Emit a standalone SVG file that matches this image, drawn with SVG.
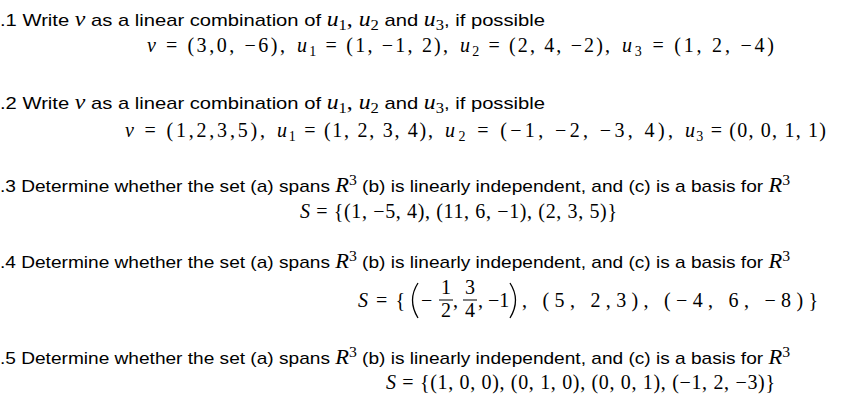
<svg xmlns="http://www.w3.org/2000/svg" width="856" height="420" viewBox="0 0 856 420">
<style>
.t{font-family:"Liberation Sans",Arial,sans-serif;font-size:17px;fill:#000}
.m{font-family:"Liberation Serif","Times New Roman",serif;font-size:20px;fill:#000}
.i{font-style:italic}
.s{font-size:14px}
.p{fill:none;stroke:#000;stroke-width:1.3}
</style>
<rect width="856" height="420" fill="#fff"/>
<g id="q1">
<text class="t" x="0" y="26" textLength="545" lengthAdjust="spacingAndGlyphs">.1 Write <tspan class="m i">v</tspan> as a linear combination of <tspan class="m i">u</tspan><tspan class="m s" dy="4">1</tspan><tspan class="m" dy="-4">, </tspan><tspan class="m i">u</tspan><tspan class="m s" dy="4">2</tspan><tspan dy="-4"> and </tspan><tspan class="m i">u</tspan><tspan class="m s" dy="4">3</tspan><tspan dy="-4">, if possible</tspan></text>
<text class="m" x="147" y="52" textLength="138" lengthAdjust="spacing"><tspan class="i">v</tspan> = (3,0, −6),</text>
<text class="m" x="297" y="52" textLength="151" lengthAdjust="spacing"><tspan class="i">u</tspan><tspan class="s" dy="4">1</tspan><tspan dy="-4"> = (1, −1, 2),</tspan></text>
<text class="m" x="460" y="52" textLength="150" lengthAdjust="spacing"><tspan class="i">u</tspan><tspan class="s" dy="4">2</tspan><tspan dy="-4"> = (2, 4, −2),</tspan></text>
<text class="m" x="622" y="52" textLength="152" lengthAdjust="spacing"><tspan class="i">u</tspan><tspan class="s" dy="4">3</tspan><tspan dy="-4"> = (1, 2, −4)</tspan></text>
</g>
<g id="q2">
<text class="t" x="0" y="109" textLength="545" lengthAdjust="spacingAndGlyphs">.2 Write <tspan class="m i">v</tspan> as a linear combination of <tspan class="m i">u</tspan><tspan class="m s" dy="4">1</tspan><tspan class="m" dy="-4">, </tspan><tspan class="m i">u</tspan><tspan class="m s" dy="4">2</tspan><tspan dy="-4"> and </tspan><tspan class="m i">u</tspan><tspan class="m s" dy="4">3</tspan><tspan dy="-4">, if possible</tspan></text>
<text class="m" x="125" y="137" textLength="140" lengthAdjust="spacing"><tspan class="i">v</tspan> = (1,2,3,5),</text>
<text class="m" x="277" y="137" textLength="156" lengthAdjust="spacing"><tspan class="i">u</tspan><tspan class="s" dy="4">1</tspan><tspan dy="-4"> = (1, 2, 3, 4),</tspan></text>
<text class="m" x="445" y="137" textLength="228" lengthAdjust="spacing"><tspan class="i">u</tspan><tspan class="s" dy="4">2</tspan><tspan dy="-4"> = (−1, −2, −3, 4),</tspan></text>
<text class="m" x="685" y="137" textLength="141" lengthAdjust="spacing"><tspan class="i">u</tspan><tspan class="s" dy="4">3</tspan><tspan dy="-4"> = (0, 0, 1, 1)</tspan></text>
</g>
<g id="q3">
<text class="t" x="0" y="192" textLength="790" lengthAdjust="spacingAndGlyphs">.3 Determine whether the set (a) spans <tspan class="m i">R</tspan><tspan class="m s" dy="-7">3</tspan><tspan dy="7">  (b) is linearly independent, and (c) is a basis for </tspan><tspan class="m i">R</tspan><tspan class="m s" dy="-7">3</tspan></text>
<text class="m" x="300" y="218" textLength="317" lengthAdjust="spacing"><tspan class="i">S</tspan> = {(1, −5, 4), (11, 6, −1), (2, 3, 5)}</text>
</g>
<g id="q4">
<text class="t" x="0" y="268" textLength="790" lengthAdjust="spacingAndGlyphs">.4 Determine whether the set (a) spans <tspan class="m i">R</tspan><tspan class="m s" dy="-7">3</tspan><tspan dy="7">  (b) is linearly independent, and (c) is a basis for </tspan><tspan class="m i">R</tspan><tspan class="m s" dy="-7">3</tspan></text>
<text class="m" x="358" y="307" textLength="47" lengthAdjust="spacing"><tspan class="i">S</tspan> = {</text>
<path class="p" d="M418 283 Q407 300 418 318"/>
<text class="m" x="421" y="307">−</text>
<text class="m" x="441" y="294">1</text>
<line x1="439" y1="300" x2="453" y2="300" stroke="#000" stroke-width="1"/>
<text class="m" x="441" y="317">2</text>
<text class="m" x="453" y="307">,</text>
<text class="m" x="465" y="294">3</text>
<line x1="463" y1="300" x2="477" y2="300" stroke="#000" stroke-width="1"/>
<text class="m" x="465" y="317">4</text>
<text class="m" x="478" y="307">, −1</text>
<path class="p" d="M510 283 Q521 300 510 318"/>
<text class="m" x="522" y="307" textLength="296" lengthAdjust="spacing">, (5, 2,3), (−4, 6, −8)}</text>
</g>
<g id="q5">
<text class="t" x="0" y="364" textLength="790" lengthAdjust="spacingAndGlyphs">.5 Determine whether the set (a) spans <tspan class="m i">R</tspan><tspan class="m s" dy="-7">3</tspan><tspan dy="7">  (b) is linearly independent, and (c) is a basis for </tspan><tspan class="m i">R</tspan><tspan class="m s" dy="-7">3</tspan></text>
<text class="m" x="386" y="389" textLength="389" lengthAdjust="spacing"><tspan class="i">S</tspan> = {(1, 0, 0), (0, 1, 0), (0, 0, 1), (−1, 2, −3)}</text>
</g>
<g id="connectors"/>
</svg>
